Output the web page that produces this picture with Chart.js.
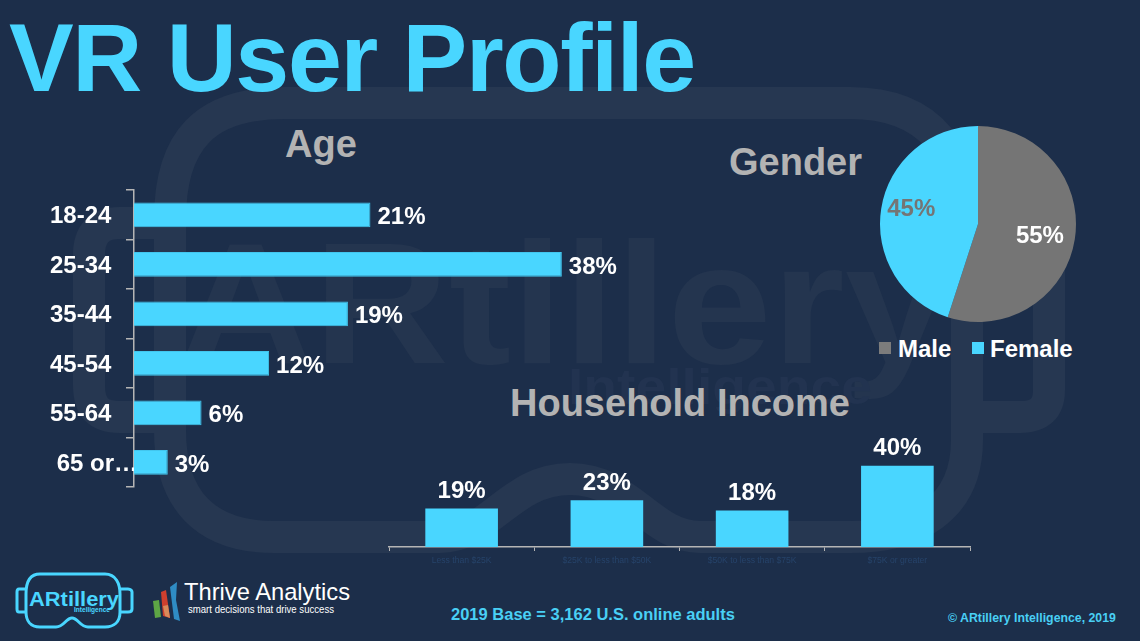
<!DOCTYPE html>
<html><head><meta charset="utf-8">
<script src="https://cdn.jsdelivr.net/npm/chart.js@4"></script>
<style>
html,body{margin:0;padding:0;background:#1c2e4a;overflow:hidden}
#stage{position:relative;width:1140px;height:641px;background:#1c2e4a;font-family:"Liberation Sans",Arial,sans-serif;font-weight:700;overflow:hidden}
.t{position:absolute;white-space:nowrap;line-height:1}
canvas{display:block}
.c{position:absolute}
svg{position:absolute;left:0;top:0}
.sw{position:absolute;width:12px;height:12px}
</style></head><body>
<div id="stage">
<svg width="1140" height="641" viewBox="0 0 1140 641">
  <g fill="none" stroke="#263751" stroke-width="32">
    <path d="M285,103 L850,103 C930,103 967,150 967,240 L967,440 C967,510 915,537 850,537 L700,537 C650,537 630,479 570,479 C510,479 490,537 440,537 L275,537 C205,537 170,500 170,430 L170,220 C170,140 205,103 285,103 Z"/>
    <path d="M170,223 L120,223 C98,223 89,235 89,255 L89,385 C89,407 98,417 120,417 L170,417"/>
    <path d="M967,223 L1020,223 C1040,223 1049,235 1049,255 L1049,390 C1049,408 1040,417 1020,417 L967,417"/>
  </g>
  <text x="178" y="363" font-size="172" font-weight="700" fill="#24354f" font-family="Liberation Sans" textLength="771" lengthAdjust="spacingAndGlyphs">ARtillery</text>
  <text x="568" y="404" font-size="50" font-weight="700" fill="#223350" font-family="Liberation Sans" textLength="304" lengthAdjust="spacingAndGlyphs">Intelligence</text>

  <g fill="none" stroke="#49d6ff" stroke-width="3">
    <path d="M40,574 L105,574 C116,574 120,584 120,594 L120,612 C120,622 114,627 105,627 L88,627 C80,627 78,618 72,618 C66,618 64,627 56,627 L40,627 C30,627 26,620 26,612 L26,594 C26,582 30,574 40,574 Z"/>
    <path d="M26,589 L19,589 C17,589 17,591 17,592 L17,609 C17,611 18,612 19,612 L26,612"/>
    <path d="M120,589 L128,589 C131,589 132,591 132,592 L132,609 C132,611 131,612 128,612 L120,612"/>
  </g>
  <text x="29" y="606" font-size="20" font-weight="700" fill="#49d6ff" font-family="Liberation Sans" textLength="90" lengthAdjust="spacingAndGlyphs">ARtillery</text>
  <text x="74" y="612" font-size="7" font-weight="700" fill="#49d6ff" font-family="Liberation Sans" textLength="36" lengthAdjust="spacingAndGlyphs">Intelligence</text>

  <path d="M153,601 L159,600 L161,617 L155,618 Z" fill="#5da545"/>
  <path d="M161,592 L166,590 L170,618 L163,616 Z" fill="#cf3f2e"/>
  <path d="M163,606 L168,605 L170,618 L165,616 Z" fill="#d98a5a"/>
  <path d="M170,587 L177,582 L176,600 L180,621 L174,619 Z" fill="#2f8cc4"/>
  <text x="184" y="600" font-size="24.5" font-weight="400" fill="#ffffff" font-family="Liberation Sans" textLength="166" lengthAdjust="spacingAndGlyphs">Thrive Analytics</text>
  <text x="188" y="613" font-size="10.5" font-weight="400" fill="#ffffff" font-family="Liberation Sans" textLength="146" lengthAdjust="spacingAndGlyphs">smart decisions that drive success</text>
</svg>

<div class="t" id="mainTitle" style="left:9px;top:9px;font-size:97px;letter-spacing:-1.35px;color:#49d6ff">VR User Profile</div>
<div class="t" style="left:285px;top:125px;font-size:38px;color:#b3b3b3">Age</div>
<div class="t" style="left:729px;top:143px;font-size:38px;color:#b3b3b3">Gender</div>
<div class="t" style="left:510px;top:384px;font-size:38px;color:#b3b3b3">Household Income</div>

<div class="c" style="left:50px;top:186px;width:600px;height:305px"><canvas id="age"></canvas></div>
<div class="c" style="left:870px;top:116px;width:216px;height:216px"><canvas id="gender"></canvas></div>
<div class="c" style="left:387px;top:420px;width:585px;height:150px"><canvas id="income"></canvas></div>

<div class="sw" style="left:879px;top:342px;background:#7c7c7c"></div>
<div class="t" id="lg0" style="left:898px;top:337px;font-size:24px;color:#fff"></div>
<div class="sw" style="left:972px;top:342px;background:#49d6ff"></div>
<div class="t" id="lg1" style="left:990px;top:337px;font-size:24px;color:#fff"></div>

<div class="t" style="left:451px;top:606px;font-size:16.5px;color:#49d0f5">2019 Base = 3,162 U.S. online adults</div>
<div class="t" style="left:948px;top:612px;font-size:12.3px;color:#49d0f5">© ARtillery Intelligence, 2019</div>
</div>
<script>
const ageLabels = ['18-24','25-34','35-44','45-54','55-64','65 or…'];
const ageValues = [21,38,19,12,6,3];
const genderLabels = ['Male','Female'];
const genderValues = [55,45];
const incomeLabels = ['Less than $25K','$25K to less than $50K','$50K to less than $75K','$75K or greater'];
const incomeValues = [19,23,18,40];

const CYAN = '#49d6ff', EDGE = '#42c6ee', GRAY = '#757575', AXIS = '#b5b5b5';
const FONT = '"Liberation Sans", Arial, sans-serif';
const PIE_NUDGE = [[-1, 2], [1, -4]];
Chart.defaults.animation = false;
Chart.defaults.responsive = true;
Chart.defaults.maintainAspectRatio = false;
Chart.defaults.plugins.legend.display = false;
Chart.defaults.plugins.tooltip.enabled = false;

document.getElementById('lg0').textContent = genderLabels[0];
document.getElementById('lg1').textContent = genderLabels[1];

const valueLabels = {
  id: 'valueLabels',
  afterDatasetsDraw(chart) {
    const ctx = chart.ctx, ds = chart.data.datasets[0], meta = chart.getDatasetMeta(0);
    const type = chart.config.type, horiz = chart.options.indexAxis === 'y';
    ctx.save();
    ctx.font = 'bold 24px ' + FONT;
    meta.data.forEach((el, i) => {
      const txt = ds.data[i] + '%';
      if (type === 'pie') {
        const p = el.getCenterPoint();
        const cx = (el.x), cy = (el.y), f = i === 0 ? 1.3 : 1.4;
        ctx.fillStyle = i === 0 ? '#ffffff' : GRAY;
        ctx.textAlign = 'center'; ctx.textBaseline = 'middle';
        ctx.fillText(txt, cx + (p.x - cx) * f + PIE_NUDGE[i][0], cy + (p.y - cy) * f + PIE_NUDGE[i][1]);
      } else if (horiz) {
        ctx.fillStyle = '#ffffff';
        ctx.textAlign = 'left'; ctx.textBaseline = 'middle';
        ctx.fillText(txt, el.x + 7, el.y + 3);
      } else {
        ctx.fillStyle = '#ffffff';
        ctx.textAlign = 'center'; ctx.textBaseline = 'bottom';
        ctx.fillText(txt, el.x, el.y - 5);
      }
    });
    ctx.restore();
  }
};

new Chart(document.getElementById('age'), {
  type: 'bar',
  plugins: [valueLabels],
  data: { labels: ageLabels, datasets: [{ data: ageValues, backgroundColor: CYAN, borderColor: EDGE, borderWidth: 1, categoryPercentage: 1, barPercentage: 0.5 }] },
  options: {
    indexAxis: 'y',
    scales: {
      x: { display: false, min: 0, max: 45.83 },
      y: {
        afterFit: s => { s.width = 84; },
        border: { color: AXIS, width: 1.5 },
        grid: { drawOnChartArea: false, color: AXIS, tickLength: 8, lineWidth: 1.5 },
        ticks: {
          crossAlign: 'far', color: '#ffffff', font: { family: FONT, size: 24, weight: 'bold', lineHeight: '4px' }, padding: 0,
          autoSkip: false,
          callback(v, i) { const l = this.getLabelForValue(v); return ['', i === 5 ? '\u00a0' + l : l]; }
        }
      }
    }
  }
});

new Chart(document.getElementById('gender'), {
  type: 'pie',
  plugins: [valueLabels],
  data: { labels: genderLabels, datasets: [{ data: genderValues, backgroundColor: [GRAY, CYAN], borderWidth: 0 }] },
  options: { layout: { padding: 10 }, radius: 98 }
});

new Chart(document.getElementById('income'), {
  type: 'bar',
  plugins: [valueLabels],
  data: { labels: incomeLabels, datasets: [{ data: incomeValues, backgroundColor: CYAN, borderWidth: 0, categoryPercentage: 1, barPercentage: 0.5 }] },
  options: {
    layout: { padding: { left: 2, right: 2, top: 0, bottom: 0 } },
    scales: {
      y: { display: false, min: 0, max: 62.56 },
      x: {
        afterFit: s => { s.height = 23; },
        border: { color: AXIS, width: 1.5 },
        grid: { drawOnChartArea: false, color: AXIS, tickLength: 4, lineWidth: 1 },
        ticks: { color: '#26436a', font: { family: FONT, size: 8.6, weight: 'normal' }, padding: 4, maxRotation: 0, autoSkip: false }
      }
    }
  }
});
</script>
</body></html>
